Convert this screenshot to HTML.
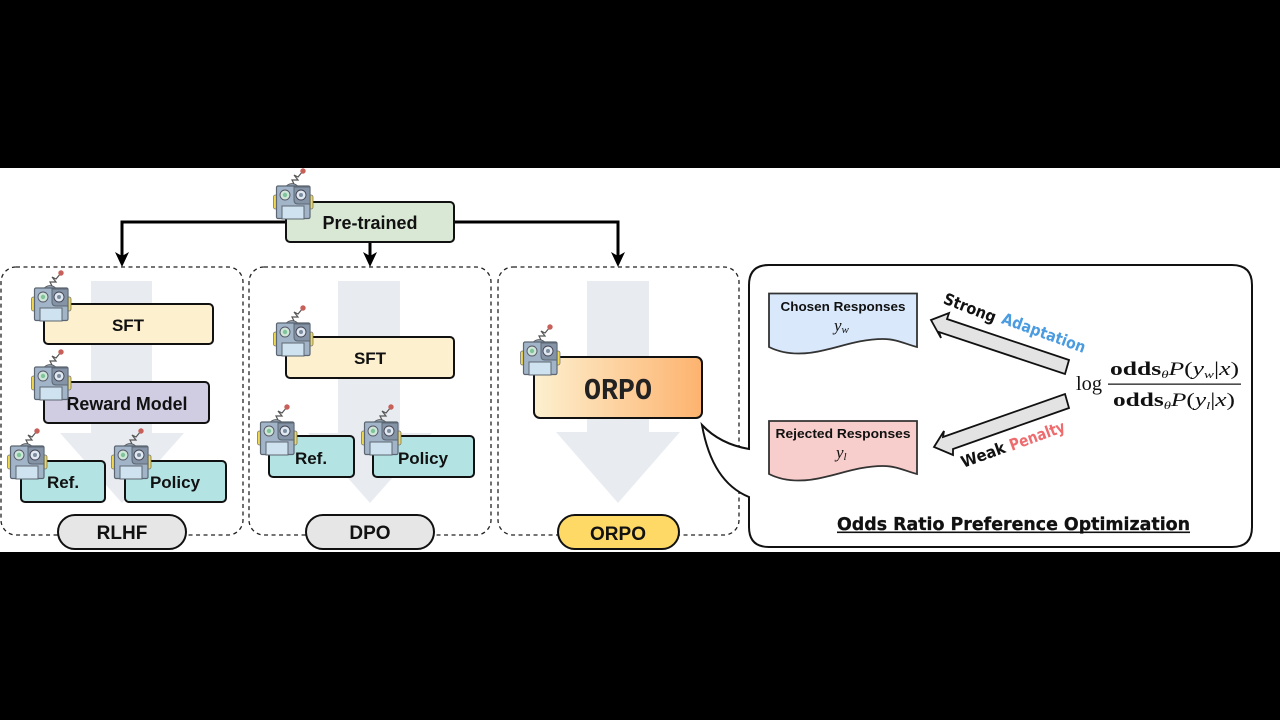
<!DOCTYPE html>
<html><head><meta charset="utf-8"><style>
html,body{margin:0;padding:0;background:#000;width:1280px;height:720px;overflow:hidden}
svg{display:block}
.b{font-family:"Liberation Sans",sans-serif;font-weight:700;fill:#111;text-anchor:middle}
.box{stroke:#111;stroke-width:2}
.dash{fill:none;stroke:#222;stroke-width:1.3;stroke-dasharray:4 3.500}
.big{fill:#e8ecf1}
.d{font-family:"DejaVu Sans",sans-serif;font-weight:700;text-anchor:middle}
.m{font-family:"Liberation Serif",serif;fill:#111}
</style></head><body>
<svg width="1280" height="720" viewBox="0 0 1280 720" xmlns="http://www.w3.org/2000/svg">
<defs>
<linearGradient id="g" x1="0" x2="1" y1="0" y2="0"><stop offset="0" stop-color="#fdf0cf"/><stop offset="1" stop-color="#fdb36f"/></linearGradient>
<g id="robot">
<path d="M30 3 L25 9 L21 7 L25 12 L19 12 L21 16" fill="none" stroke="#555" stroke-width="1.200"/>
<circle cx="30" cy="3" r="2.700" fill="#c8605a"/>
<path d="M12 19 Q19 12 26 19Z" fill="#8e9dad" stroke="#555" stroke-width=".8"/>
<rect x="0.500" y="27" width="5" height="14" rx="2" fill="#f0d850" stroke="#777" stroke-width=".8"/>
<rect x="35" y="27" width="5" height="14" rx="2" fill="#f0d850" stroke="#777" stroke-width=".8"/>
<rect x="3.500" y="18" width="33.500" height="32.500" rx="1.500" fill="#a2b4c7" stroke="#5c6672" stroke-width="1.200"/>
<path d="M21 19H37V36H25Q21 36 21 32Z" fill="#8494a6" stroke="#5c6672" stroke-width="1"/>
<circle cx="12" cy="27" r="5" fill="#cfe6d8" stroke="#556" stroke-width=".9"/><circle cx="12" cy="27" r="2.200" fill="#7fc49a"/>
<circle cx="28" cy="27" r="5" fill="#dfe8f0" stroke="#445" stroke-width=".9"/><circle cx="28" cy="27" r="2" fill="#7d8da0"/>
<rect x="9" y="38" width="22" height="13" fill="#cfe2ef" stroke="#5c6672" stroke-width="1"/>
</g>
</defs>
<rect x="0" y="168" width="1280" height="384" fill="#fff"/>

<path class="big" d="M91 281H152V433H184L122 503L60 433H91Z"/>
<path class="big" d="M338 281H400V433H432L370 503L308 433H338Z"/>
<path class="big" d="M587 281H649V432H680L618 503L556 432H587Z"/>

<rect class="dash" x="1" y="267" width="242" height="268" rx="15"/>
<rect class="dash" x="249" y="267" width="242" height="268" rx="15"/>
<rect class="dash" x="498" y="267" width="241" height="268" rx="15"/>

<path d="M286 222H122V258M454 222H618V258M370 242V258" fill="none" stroke="#000" stroke-width="3"/>
<path d="M115 252L122 267L129 252L122 256Z M363 252L370 267L377 252L370 256Z M611 252L618 267L625 252L618 256Z" fill="#000"/>

<rect class="box" x="286" y="202" width="168" height="40" rx="4" fill="#d9e8d4"/>
<text class="b" x="370" y="229" font-size="18" textLength="95" lengthAdjust="spacingAndGlyphs">Pre-trained</text>

<rect class="box" x="44" y="304" width="169" height="40" rx="4" fill="#fdf0cf"/>
<text class="b" x="128" y="331" font-size="17">SFT</text>
<rect class="box" x="44" y="382" width="165" height="41" rx="4" fill="#d0cde2"/>
<text class="b" x="127" y="410" font-size="18" textLength="121" lengthAdjust="spacingAndGlyphs">Reward Model</text>
<rect class="box" x="21" y="461" width="84" height="41" rx="4" fill="#b3e3e3"/>
<text class="b" x="63" y="488" font-size="17">Ref.</text>
<rect class="box" x="125" y="461" width="101" height="41" rx="4" fill="#b3e3e3"/>
<text class="b" x="175" y="488" font-size="17">Policy</text>

<rect class="box" x="286" y="337" width="168" height="41" rx="4" fill="#fdf0cf"/>
<text class="b" x="370" y="364" font-size="17">SFT</text>
<rect class="box" x="269" y="436" width="85" height="41" rx="4" fill="#b3e3e3"/>
<text class="b" x="311" y="464" font-size="17">Ref.</text>
<rect class="box" x="373" y="436" width="101" height="41" rx="4" fill="#b3e3e3"/>
<text class="b" x="423" y="464" font-size="17">Policy</text>

<rect class="box" x="534" y="357" width="168" height="61" rx="6" fill="url(#g)"/>
<text x="618" y="399" font-family="Liberation Mono,monospace" font-weight="700" font-size="31" text-anchor="middle" fill="#222" textLength="68" lengthAdjust="spacingAndGlyphs">ORPO</text>

<rect class="box" x="58" y="515" width="128" height="34" rx="17" fill="#e6e6e6"/>
<text class="b" x="122" y="539" font-size="19">RLHF</text>
<rect class="box" x="306" y="515" width="128" height="34" rx="17" fill="#e6e6e6"/>
<text class="b" x="370" y="539" font-size="19">DPO</text>
<rect class="box" x="558" y="515" width="121" height="34" rx="17" fill="#ffd966"/>
<text class="b" x="618" y="540" font-size="19">ORPO</text>

<use href="#robot" x="273" y="168"/>
<use href="#robot" x="31" y="270"/>
<use href="#robot" x="31" y="349"/>
<use href="#robot" x="7" y="428"/>
<use href="#robot" x="111" y="428"/>
<use href="#robot" x="273" y="305"/>
<use href="#robot" x="257" y="404"/>
<use href="#robot" x="361" y="404"/>
<use href="#robot" x="520" y="324"/>

<path d="M769 265H1232Q1252 265 1252 285V527Q1252 547 1232 547H769Q749 547 749 527V497Q712 482 702 425Q720 444 749 449V285Q749 265 769 265Z" fill="#fff" stroke="#111" stroke-width="2"/>

<path d="M769 293.500H917V347C905 344 897 339 883 339C860 339 840 347 825 350C805 355 785 355 769 347Z" fill="#d9e8fb" stroke="#333" stroke-width="1.800"/>
<text class="b" x="843" y="311" font-size="13" textLength="125" lengthAdjust="spacingAndGlyphs">Chosen Responses</text>
<text class="m" x="834" y="331" font-size="17" font-style="italic">y<tspan font-size="11" dy="2">w</tspan></text>

<path d="M769 421H917V474C905 471 897 466 883 466C860 466 840 474 825 477C805 482 785 482 769 474Z" fill="#f8cecc" stroke="#333" stroke-width="1.800"/>
<text class="b" x="843" y="438" font-size="13" textLength="135" lengthAdjust="spacingAndGlyphs">Rejected Responses</text>
<text class="m" x="836" y="458" font-size="17" font-style="italic">y<tspan font-size="11" dy="2">l</tspan></text>

<path d="M1069 360L1065 374L939 332L941 338L931 320L949 313L947 319Z" fill="#e3e3e3" stroke="#111" stroke-width="1.800"/>
<path d="M1065 394L1069 408L953 449L953 455L934 447L944 431L943 437Z" fill="#e3e3e3" stroke="#111" stroke-width="1.800"/>

<text class="d" transform="translate(968,313) rotate(21)" font-size="16" fill="#111" textLength="55" lengthAdjust="spacingAndGlyphs">Strong</text>
<text class="d" transform="translate(1042,338) rotate(20)" font-size="16" fill="#4a9be0" font-weight="400" textLength="88" lengthAdjust="spacingAndGlyphs">Adaptation</text>
<text class="d" transform="translate(985,460) rotate(-20)" font-size="16" fill="#111" textLength="46" lengthAdjust="spacingAndGlyphs">Weak</text>
<text class="d" transform="translate(1039,441) rotate(-20)" font-size="16" fill="#ee6b6e" textLength="58" lengthAdjust="spacingAndGlyphs">Penalty</text>

<text class="m" x="1076" y="390" font-size="20" textLength="26" lengthAdjust="spacingAndGlyphs">log</text>
<rect x="1108" y="383.500" width="133" height="1.300" fill="#222"/>
<text class="m" x="1110" y="375" font-size="19" textLength="129" lengthAdjust="spacingAndGlyphs"><tspan font-weight="700">odds</tspan><tspan font-size="11" font-style="italic" dy="3">θ</tspan><tspan font-style="italic" dy="-3">P</tspan>(<tspan font-style="italic">y</tspan><tspan font-size="11" font-style="italic" dy="3">w</tspan><tspan dy="-3">|</tspan><tspan font-style="italic">x</tspan>)</text>
<text class="m" x="1113" y="406" font-size="19" textLength="122" lengthAdjust="spacingAndGlyphs"><tspan font-weight="700">odds</tspan><tspan font-size="11" font-style="italic" dy="3">θ</tspan><tspan font-style="italic" dy="-3">P</tspan>(<tspan font-style="italic">y</tspan><tspan font-size="11" font-style="italic" dy="3">l</tspan><tspan dy="-3">|</tspan><tspan font-style="italic">x</tspan>)</text>

<text class="d" x="1013.500" y="530" font-size="18" fill="#111" font-weight="400" stroke="#111" stroke-width=".3" textLength="353" lengthAdjust="spacingAndGlyphs">Odds Ratio Preference Optimization</text>
<rect x="837" y="531.500" width="353" height="1.600" fill="#111"/>
</svg>
</body></html>
